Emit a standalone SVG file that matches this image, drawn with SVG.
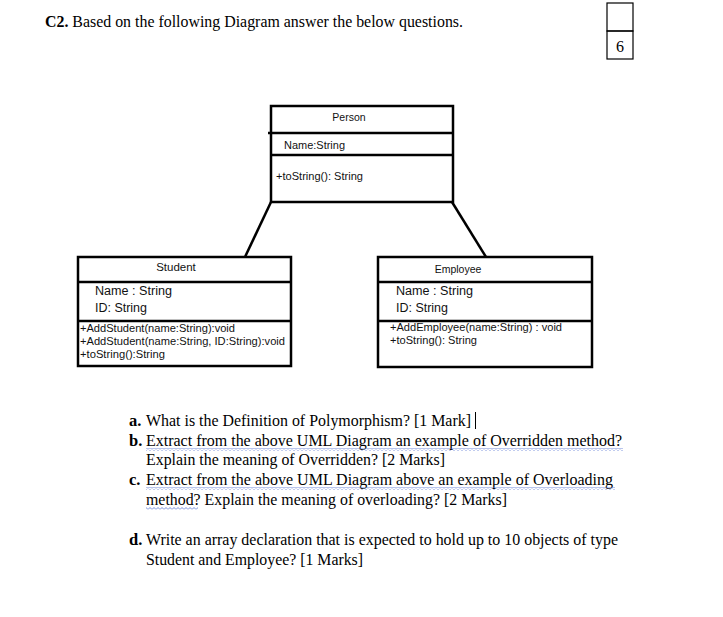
<svg xmlns="http://www.w3.org/2000/svg" width="723" height="617" viewBox="0 0 723 617">
<style>
.q{font-family:"Liberation Serif","Times New Roman",serif;font-size:16.5px;fill:#000}
.b{font-weight:bold}
.u{font-family:"Liberation Sans",Arial,sans-serif;fill:#111}
.box{fill:#fff;stroke:#000;stroke-width:2.5}
.div{stroke:#000;stroke-width:2.5}
.con{stroke:#000;stroke-width:2.5;fill:none}
</style>
<defs>
<pattern id="wave" x="0" y="0" width="4" height="3" patternUnits="userSpaceOnUse">
<path d="M0,2.5 L2,0.5 L4,2.5" fill="none" stroke="#4f6fd0" stroke-width="0.8"/>
</pattern>
</defs>
<rect width="723" height="617" fill="#fff"/>

<g id="header">
<text class="q" x="45" y="27" font-size="16" textLength="418" lengthAdjust="spacingAndGlyphs"><tspan class="b">C2.</tspan> Based on the following Diagram answer the below questions.</text>
<rect x="607" y="3" width="26" height="28" fill="none" stroke="#000" stroke-width="1.2"/>
<rect x="607" y="31" width="26" height="28" fill="none" stroke="#000" stroke-width="1.2"/>
<text x="620" y="52" text-anchor="middle" font-family="Liberation Serif,Times New Roman,serif" font-size="16">6</text>
</g>

<g id="connectors">
<line class="con" x1="271" y1="202" x2="245" y2="257"/>
<line class="con" x1="452" y1="202" x2="486" y2="257"/>
</g>

<g id="person">
<rect class="box" x="271" y="106" width="182" height="96"/>
<line class="div" x1="268" y1="133" x2="453" y2="133"/>
<line class="div" x1="271" y1="155" x2="453" y2="155"/>
<text class="u" x="349" y="121" text-anchor="middle" font-size="10.5">Person</text>
<text class="u" x="284" y="149" font-size="10.5" textLength="61" lengthAdjust="spacingAndGlyphs">Name:String</text>
<text class="u" x="276" y="180" font-size="10.5" textLength="87" lengthAdjust="spacingAndGlyphs">+toString(): String</text>
</g>

<g id="student">
<rect class="box" x="78" y="257" width="213" height="109"/>
<line class="div" x1="78" y1="282" x2="291" y2="282"/>
<line class="div" x1="78" y1="321" x2="291" y2="321"/>
<text class="u" x="176" y="271" text-anchor="middle" font-size="11.5">Student</text>
<text class="u" x="95" y="295" font-size="12.5" textLength="77" lengthAdjust="spacingAndGlyphs">Name : String</text>
<text class="u" x="95" y="312" font-size="12.5" textLength="52" lengthAdjust="spacingAndGlyphs">ID: String</text>
<text class="u" x="80" y="332" font-size="10.5" textLength="155" lengthAdjust="spacingAndGlyphs">+AddStudent(name:String):void</text>
<text class="u" x="80" y="345" font-size="10.5" textLength="205" lengthAdjust="spacingAndGlyphs">+AddStudent(name:String, ID:String):void</text>
<text class="u" x="80" y="358" font-size="10.5" textLength="85" lengthAdjust="spacingAndGlyphs">+toString():String</text>
</g>

<g id="employee">
<rect class="box" x="378" y="257" width="214" height="110"/>
<line class="div" x1="378" y1="282" x2="592" y2="282"/>
<line class="div" x1="378" y1="321" x2="592" y2="321"/>
<text class="u" x="458" y="273" text-anchor="middle" font-size="10.5">Employee</text>
<text class="u" x="396" y="295" font-size="12.5" textLength="77" lengthAdjust="spacingAndGlyphs">Name : String</text>
<text class="u" x="396" y="312" font-size="12.5" textLength="52" lengthAdjust="spacingAndGlyphs">ID: String</text>
<text class="u" x="390" y="331" font-size="10.5" textLength="172" lengthAdjust="spacingAndGlyphs">+AddEmployee(name:String) : void</text>
<text class="u" x="390" y="344" font-size="10.5" textLength="87" lengthAdjust="spacingAndGlyphs">+toString(): String</text>
</g>

<g id="questions">
<text class="q b" x="129" y="426">a.</text>
<text class="q" x="146" y="426" textLength="325" lengthAdjust="spacingAndGlyphs">What is the Definition of Polymorphism? [1 Mark]</text>
<line x1="475.5" y1="412" x2="475.5" y2="429" stroke="#000" stroke-width="1"/>
<text class="q b" x="129" y="446">b.</text>
<text class="q" x="146" y="446" textLength="476" lengthAdjust="spacingAndGlyphs">Extract from the above UML Diagram an example of Overridden method?</text>
<text class="q" x="146" y="465" textLength="299" lengthAdjust="spacingAndGlyphs">Explain the meaning of Overridden? [2 Marks]</text>
<text class="q b" x="129" y="485">c.</text>
<text class="q" x="146" y="485" textLength="467" lengthAdjust="spacingAndGlyphs">Extract from the above UML Diagram above an example of Overloading</text>
<text class="q" x="146" y="505" textLength="361" lengthAdjust="spacingAndGlyphs">method? Explain the meaning of overloading? [2 Marks]</text>
<text class="q b" x="129" y="545">d.</text>
<text class="q" x="146" y="545" textLength="472" lengthAdjust="spacingAndGlyphs">Write an array declaration that is expected to hold up to 10 objects of type</text>
<text class="q" x="146" y="565" textLength="217" lengthAdjust="spacingAndGlyphs">Student and Employee? [1 Marks]</text>
<rect x="146" y="448" width="477" height="3" fill="url(#wave)"/>
<rect x="146" y="487" width="469" height="3" fill="url(#wave)"/>
<rect x="146" y="507" width="52" height="3" fill="url(#wave)"/>
</g>
</svg>
